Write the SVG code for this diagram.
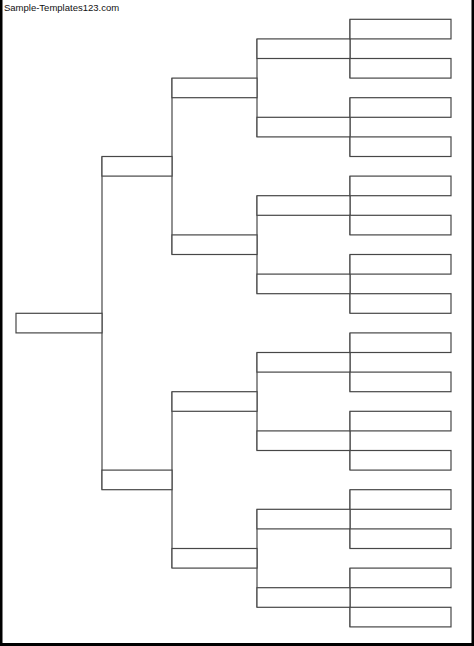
<svg xmlns="http://www.w3.org/2000/svg" width="474" height="646" viewBox="0 0 474 646">
<style>
.b{fill:#fff;stroke:#474747;stroke-width:1.2}
.c line{stroke:#474747;stroke-width:1.2}
.t{font-family:"Liberation Sans",Arial,sans-serif;font-size:9.5px;fill:#111}
</style>
<rect x="0" y="0" width="474" height="646" fill="#fff"/>
<rect x="0" y="0" width="2.5" height="646" fill="#000"/>
<rect x="471.5" y="0" width="2.5" height="646" fill="#000"/>
<rect x="0" y="643" width="474" height="3" fill="#000"/>
<text class="t" x="4" y="10.5">Sample-Templates123.com</text>
<g id="connectors" class="c">
<line x1="102" y1="156.5" x2="102" y2="489.7"/>
<line x1="172" y1="78.1" x2="172" y2="254.5"/>
<line x1="172" y1="391.7" x2="172" y2="568.1"/>
<line x1="257" y1="38.9" x2="257" y2="136.9"/>
<line x1="257" y1="195.7" x2="257" y2="293.7"/>
<line x1="257" y1="352.5" x2="257" y2="450.5"/>
<line x1="257" y1="509.3" x2="257" y2="607.3"/>
<line x1="350" y1="19.3" x2="350" y2="78.1"/>
<line x1="350" y1="97.7" x2="350" y2="156.5"/>
<line x1="350" y1="176.1" x2="350" y2="234.9"/>
<line x1="350" y1="254.5" x2="350" y2="313.3"/>
<line x1="350" y1="332.9" x2="350" y2="391.7"/>
<line x1="350" y1="411.3" x2="350" y2="470.1"/>
<line x1="350" y1="489.7" x2="350" y2="548.5"/>
<line x1="350" y1="568.1" x2="350" y2="626.9"/>
</g>
<g id="g1"><rect class="b" x="16" y="313.3" width="86" height="19.6"/></g>
<g id="g2a"><rect class="b" x="102" y="156.5" width="70" height="19.6"/></g>
<g id="g2b"><rect class="b" x="102" y="470.1" width="70" height="19.6"/></g>
<g id="g3a"><rect class="b" x="172" y="78.1" width="85" height="19.6"/></g>
<g id="g3b"><rect class="b" x="172" y="234.9" width="85" height="19.6"/></g>
<g id="g3c"><rect class="b" x="172" y="391.7" width="85" height="19.6"/></g>
<g id="g3d"><rect class="b" x="172" y="548.5" width="85" height="19.6"/></g>
<g id="g4a"><rect class="b" x="257" y="38.9" width="93" height="19.6"/></g>
<g id="g4b"><rect class="b" x="257" y="117.3" width="93" height="19.6"/></g>
<g id="g4c"><rect class="b" x="257" y="195.7" width="93" height="19.6"/></g>
<g id="g4d"><rect class="b" x="257" y="274.1" width="93" height="19.6"/></g>
<g id="g4e"><rect class="b" x="257" y="352.5" width="93" height="19.6"/></g>
<g id="g4f"><rect class="b" x="257" y="430.9" width="93" height="19.6"/></g>
<g id="g4g"><rect class="b" x="257" y="509.3" width="93" height="19.6"/></g>
<g id="g4h"><rect class="b" x="257" y="587.7" width="93" height="19.6"/></g>
<g id="g5a"><rect class="b" x="350" y="19.3" width="101" height="19.6"/></g>
<g id="g5b"><rect class="b" x="350" y="58.5" width="101" height="19.6"/></g>
<g id="g5c"><rect class="b" x="350" y="97.7" width="101" height="19.6"/></g>
<g id="g5d"><rect class="b" x="350" y="136.9" width="101" height="19.6"/></g>
<g id="g5e"><rect class="b" x="350" y="176.1" width="101" height="19.6"/></g>
<g id="g5f"><rect class="b" x="350" y="215.3" width="101" height="19.6"/></g>
<g id="g5g"><rect class="b" x="350" y="254.5" width="101" height="19.6"/></g>
<g id="g5h"><rect class="b" x="350" y="293.7" width="101" height="19.6"/></g>
<g id="g5i"><rect class="b" x="350" y="332.9" width="101" height="19.6"/></g>
<g id="g5j"><rect class="b" x="350" y="372.1" width="101" height="19.6"/></g>
<g id="g5k"><rect class="b" x="350" y="411.3" width="101" height="19.6"/></g>
<g id="g5l"><rect class="b" x="350" y="450.5" width="101" height="19.6"/></g>
<g id="g5m"><rect class="b" x="350" y="489.7" width="101" height="19.6"/></g>
<g id="g5n"><rect class="b" x="350" y="528.9" width="101" height="19.6"/></g>
<g id="g5o"><rect class="b" x="350" y="568.1" width="101" height="19.6"/></g>
<g id="g5p"><rect class="b" x="350" y="607.3" width="101" height="19.6"/></g>
</svg>
